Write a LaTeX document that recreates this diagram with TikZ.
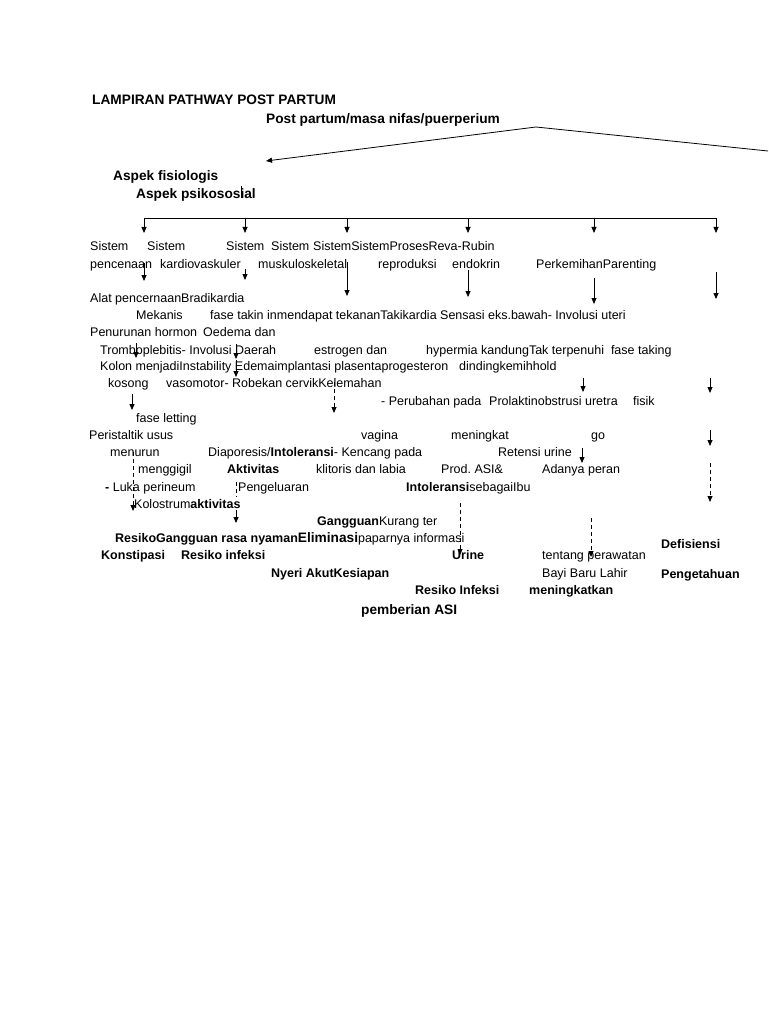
\documentclass[tikz,border=0pt]{standalone}
\usepackage{fontspec}
\setmainfont{Liberation Sans}
\usetikzlibrary{arrows.meta}
\begin{document}
\begin{tikzpicture}[x=1pt,y=-1pt,
  txt/.style={anchor=base west,inner sep=0pt,font=\fontsize{12.5}{14}\selectfont},
  hd/.style={anchor=base west,inner sep=0pt,font=\fontsize{13.7}{16}\selectfont\bfseries},
  bl/.style={anchor=base west,inner sep=0pt,font=\fontsize{12.5}{14}\selectfont\bfseries},
  ln/.style={line width=0.8pt},
  arr/.style={ln,-{Triangle[length=6pt,width=5pt]}},
  darr/.style={arr,dash pattern=on 4pt off 3pt},
  dln/.style={ln,dash pattern=on 4pt off 3pt}]
\fill[white] (0,0) rectangle (768,1024);
\useasboundingbox (0,0) rectangle (768,1024);

% headings
\node[hd] (title) at (92,105) {LAMPIRAN PATHWAY POST PARTUM};
\node[hd] (post) at (266,124) {Post partum/masa nifas/puerperium};
\node[hd] (fis) at (113,181) {Aspek fisiologis};
\node[hd] (psi) at (136,199) {Aspek psikososial};

% coordinates for connectors
\coordinate (top) at (536,127);
\coordinate (left) at (266,161);
\coordinate (right) at (768,151);
\coordinate (tk1) at (241,186); \coordinate (tk2) at (241,198);
\coordinate (b1) at (144,218); \coordinate (b2) at (245,218); \coordinate (b3) at (347,218);
\coordinate (b4) at (468,218); \coordinate (b5) at (594,218); \coordinate (b6) at (716,218);
\coordinate (e1) at (144,233); \coordinate (e2) at (245,233); \coordinate (e3) at (347,233);
\coordinate (e4) at (468,233); \coordinate (e5) at (594,233); \coordinate (e6) at (716,233);

\draw[arr] (top) -- (left);
\draw[ln] (top) -- (right);
\draw[ln] (tk1) -- (tk2);
\draw[ln] (b1) -- (b6);
\foreach \i in {1,...,6} {\draw[arr] (b\i) -- (e\i);}

% row: Sistem
\node[txt] (s1) at (90,250) {Sistem};
\node[txt] (s2) at (147,250) {Sistem};
\node[txt] (s3) at (226,250) {Sistem};
\node[txt] (s4) at (271,250) {Sistem};
\node[txt] (s5) at (313,250) {SistemSistemProsesReva-Rubin};
\node[txt] (p1) at (90,268) {pencenaan};
\node[txt] (p2) at (160,268) {kardiovaskuler};
\node[txt] (p3) at (258,268) {muskuloskeletal};
\node[txt] (p4) at (378,268) {reproduksi};
\node[txt] (p5) at (452,268) {endokrin};
\node[txt] (p6) at (536,268) {PerkemihanParenting};

% second level arrows
\coordinate (c1a) at (144,263); \coordinate (c1b) at (144,281);
\coordinate (c2a) at (245,269); \coordinate (c2b) at (245,280);
\coordinate (c3a) at (347,262); \coordinate (c3b) at (347,296);
\coordinate (c4a) at (468,270); \coordinate (c4b) at (468,297);
\coordinate (c5a) at (594,278); \coordinate (c5b) at (594,304);
\coordinate (c6a) at (716,272); \coordinate (c6b) at (716,299);
\foreach \i in {1,...,6} {\draw[arr] (c\i a) -- (c\i b);}

% body rows
\node[txt] (alat) at (90,302) {Alat pencernaanBradikardia};
\node[txt] (mek) at (136,319) {Mekanis};
\node[txt] (fase) at (210,319) {fase takin inmendapat tekananTakikardia Sensasi eks.bawah- Involusi uteri};
\node[txt] (pen) at (90,336) {Penurunan hormon};
\node[txt] (oed) at (203,336) {Oedema dan};
\node[txt] (trom) at (100,354) {Tromboplebitis- Involusi Daerah};
\node[txt] (estr) at (314,354) {estrogen dan};
\node[txt] (hyp) at (426,354) {hypermia kandungTak terpenuhi\ \ fase taking};
\node[txt] (kol) at (100,370) {Kolon menjadiInstability Edemaimplantasi plasentaprogesteron};
\node[txt] (din) at (459,370) {dindingkemihhold};
\node[txt] (kos) at (108,387) {kosong};
\node[txt] (vas) at (166,387) {vasomotor- Robekan cervikKelemahan};
\node[txt] (perub) at (381,405) {- Perubahan pada};
\node[txt] (prol) at (489,405) {Prolaktinobstrusi uretra};
\node[txt] (fisik) at (633,405) {fisik};
\node[txt] (let) at (136,422) {fase letting};
\node[txt] (peri) at (89,439) {Peristaltik usus};
\node[txt] (vag) at (361,439) {vagina};
\node[txt] (mening) at (451,439) {meningkat};
\node[txt] (go) at (591,439) {go};
\node[txt] (menu) at (110,456) {menurun};
\node[txt] (diap) at (208,456) {Diaporesis/{\bfseries Intoleransi}- Kencang pada};
\node[txt] (ret) at (498,456) {Retensi urine};
\node[txt] (meng) at (138,473) {menggigil};
\node[bl] (akt) at (227,473) {Aktivitas};
\node[txt] (klit) at (316,473) {klitoris dan labia};
\node[txt] (prod) at (441,473) {Prod.\ ASI\&};
\node[txt] (ada) at (542,473) {Adanya peran};
\node[txt] (luka) at (105,491) {{\bfseries -} Luka perineum};
\node[txt] (peng) at (238,491) {Pengeluaran};
\node[txt] (into) at (406,491) {{\bfseries Intoleransi}sebagaiIbu};
\node[txt] (kolo) at (134,508) {Kolostrum{\bfseries aktivitas}};
\node[txt] (gang) at (317,525) {{\bfseries Gangguan}Kurang ter};
\node[bl] (resg) at (115,542) {ResikoGangguan rasa nyaman{\fontsize{13.7}{16}\selectfont Eliminasi}{\mdseries paparnya informasi}};
\node[bl] (def) at (661,548) {Defisiensi};
\node[bl] (kons) at (101,559) {Konstipasi};
\node[bl] (resi) at (181,559) {Resiko infeksi};
\node[bl] (uri) at (452,559) {Urine};
\node[txt] (tent) at (542,559) {tentang perawatan};
\node[bl] (nyeri) at (271,577) {Nyeri AkutKesiapan};
\node[txt] (bayi) at (542,577) {Bayi Baru Lahir};
\node[bl] (penge) at (661,578) {Pengetahuan};
\node[bl] (resi2) at (415,594) {Resiko Infeksi};
\node[bl] (menk) at (529,594) {meningkatkan};
\node[hd] (asi) at (361,614) {pemberian ASI};

% lower connectors
\coordinate (d1a) at (136,343); \coordinate (d1b) at (136,358);
\coordinate (d2a) at (236,344); \coordinate (d2b) at (236,359);
\coordinate (d3a) at (236,360); \coordinate (d3b) at (236,377);
\coordinate (d4a) at (132,394); \coordinate (d4b) at (132,410);
\coordinate (d5a) at (583,378); \coordinate (d5b) at (583,392);
\coordinate (d6a) at (710,378); \coordinate (d6b) at (710,393);
\coordinate (d7a) at (710,430); \coordinate (d7b) at (710,446);
\coordinate (d8a) at (582,448); \coordinate (d8b) at (582,463);
\coordinate (d9a) at (236,510); \coordinate (d9b) at (236,523);
\foreach \i in {1,...,9} {\draw[arr] (d\i a) -- (d\i b);}

\coordinate (h1a) at (334,382); \coordinate (h1b) at (334,413);
\coordinate (h2a) at (133,452); \coordinate (h2b) at (133,511);
\coordinate (h3a) at (710,463); \coordinate (h3b) at (710,502);
\coordinate (h4a) at (460,503); \coordinate (h4b) at (460,555);
\coordinate (h5a) at (591,518); \coordinate (h5b) at (591,557);
\foreach \i in {1,...,5} {\draw[darr] (h\i a) -- (h\i b);}
\coordinate (g1) at (236,482); \coordinate (g2) at (236,497);
\draw[dln] (g1) -- (g2);
\end{tikzpicture}
\end{document}
